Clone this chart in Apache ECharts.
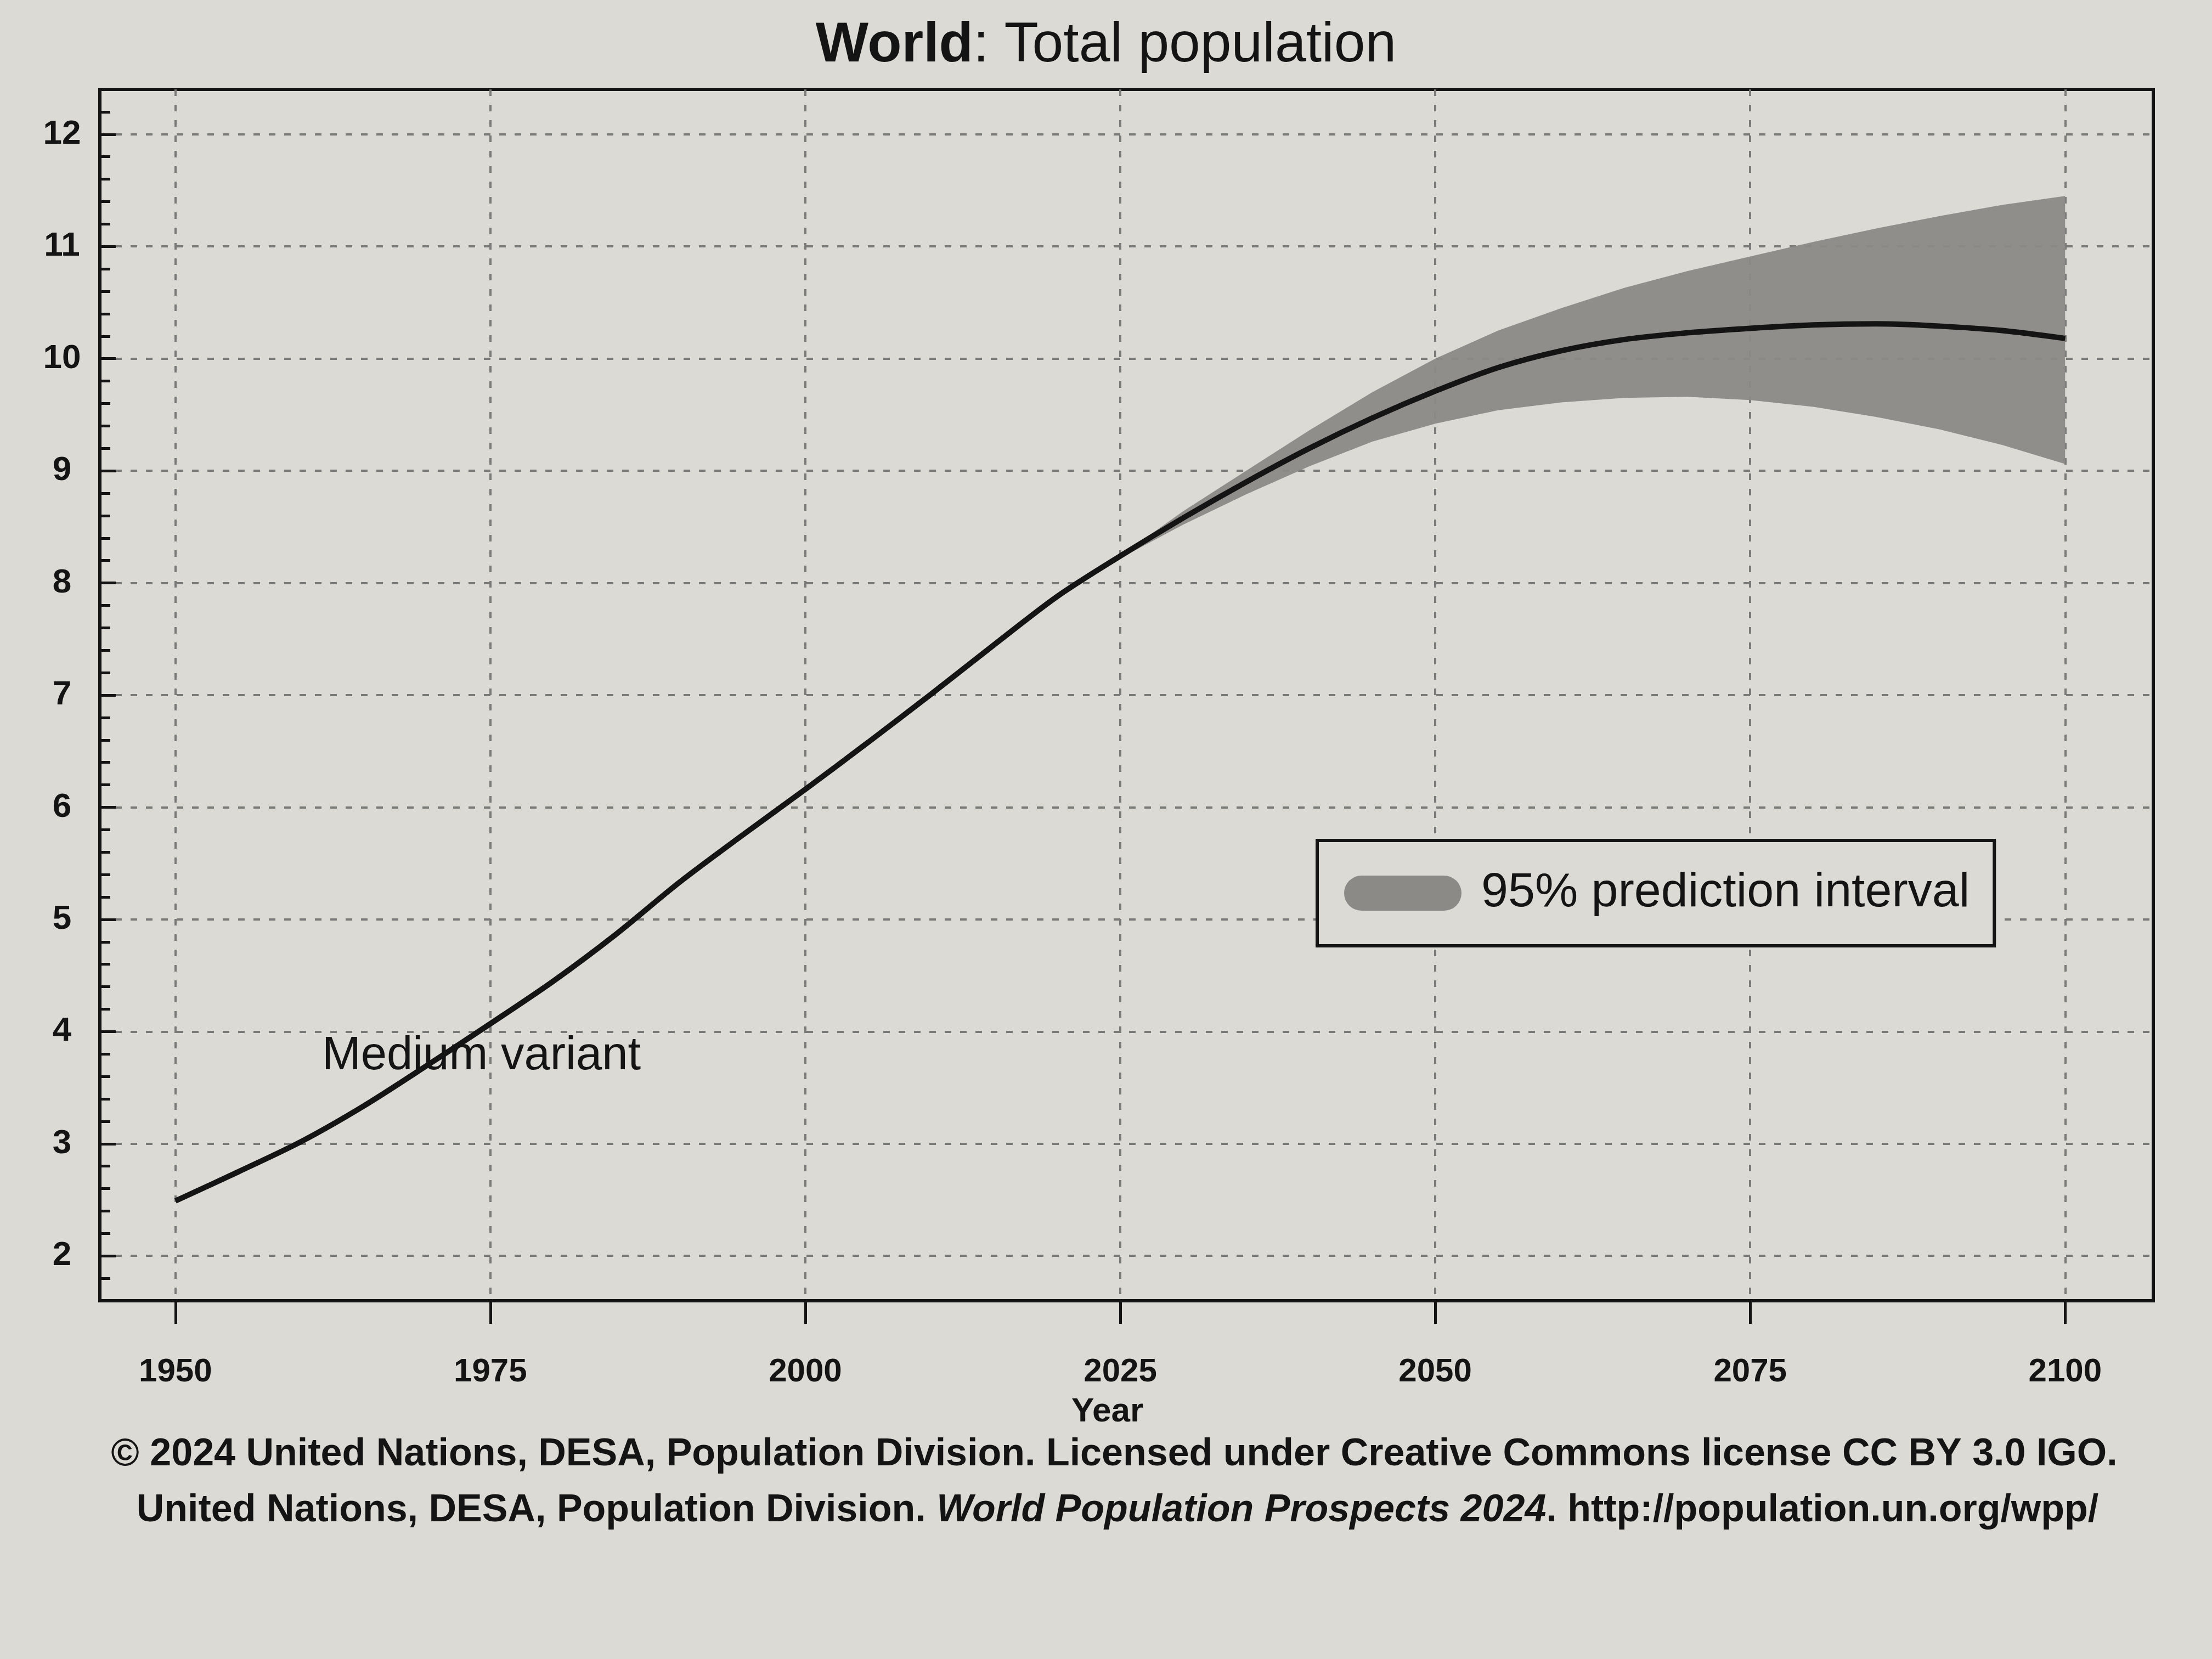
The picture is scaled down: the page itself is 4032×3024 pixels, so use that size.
<!DOCTYPE html>
<html>
<head>
<meta charset="utf-8">
<script src="https://cdn.jsdelivr.net/npm/echarts@6/dist/echarts.min.js"></script>
<style>
html,body{margin:0;padding:0;background:#d9d8d3;}
#chart{width:4032px;height:3024px;}
</style>
</head>
<body>
<div id="chart"></div>
<script>
// ---- data (billions) ----
const years = [1950,1955,1960,1965,1970,1975,1980,1985,1990,1995,2000,2005,2010,2015,2020,2025,2030,2035,2040,2045,2050,2055,2060,2065,2070,2075,2080,2085,2090,2095,2100];
const mediumVariant = [2.49,2.75,3.02,3.34,3.70,4.07,4.45,4.87,5.33,5.75,6.16,6.58,7.01,7.45,7.88,8.24,8.58,8.90,9.20,9.47,9.71,9.92,10.07,10.17,10.23,10.27,10.30,10.31,10.29,10.25,10.18];
const bandYears = [2024,2030,2035,2040,2045,2050,2055,2060,2065,2070,2075,2080,2085,2090,2095,2100];
const bandLower = [8.16,8.52,8.79,9.04,9.26,9.42,9.54,9.61,9.65,9.66,9.63,9.57,9.48,9.37,9.23,9.06];
const bandUpper = [8.16,8.64,9.00,9.36,9.70,10.00,10.25,10.45,10.63,10.78,10.91,11.04,11.16,11.27,11.37,11.45];
const xTickValues = [1950,1975,2000,2025,2050,2075,2100];
const yTickValues = [2,3,4,5,6,7,8,9,10,11,12];

const titleMain = 'World';
const titleRest = ': Total population';
const xName = 'Year';
const bandName = '95% prediction interval';
const lineName = 'Medium variant';
const footer1 = '\u00A9 2024 United Nations, DESA, Population Division. Licensed under Creative Commons license CC BY 3.0 IGO.';
const footer2a = 'United Nations, DESA, Population Division. ';
const footer2b = 'World Population Prospects 2024';
const footer2c = '. http://population.un.org/wpp/';

// ---- style ----
const BG = '#dbdad5';
const INK = '#141414';
const BAND = '#8b8a87';
const GRIDC = '#7a7a78';
const FONT = 'Liberation Sans, Arial, sans-serif';

const chart = echarts.init(document.getElementById('chart'), null, {renderer: 'canvas'});

const bandData = bandYears.map((y, i) => [y, bandLower[i], bandUpper[i]]);
const lineData = years.map((y, i) => [y, mediumVariant[i]]);

function renderBand(params, api) {
  if (params.dataIndex !== 0) return null;
  const pts = [];
  for (let i = 0; i < bandData.length; i++) pts.push(api.coord([bandData[i][0], bandData[i][2]]));
  for (let i = bandData.length - 1; i >= 0; i--) pts.push(api.coord([bandData[i][0], bandData[i][1]]));
  return {
    type: 'polygon',
    shape: {points: pts},
    style: {fill: BAND, opacity: 0.95}
  };
}

const option = {
  backgroundColor: BG,
  animation: false,
  title: {
    text: '{b|' + titleMain + '}{n|' + titleRest + '}',
    left: 'center',
    top: 33,
    padding: [0, 0, 0, 46],
    textStyle: {
      rich: {
        b: {fontSize: 102, fontWeight: 'bold', fontFamily: FONT, color: INK},
        n: {fontSize: 102, fontWeight: 'normal', fontFamily: FONT, color: INK}
      }
    }
  },
  legend: {
    data: [{name: bandName, icon: 'path://M32,0 L182,0 A32,32 0 0 1 182,64 L32,64 A32,32 0 0 1 32,0 Z'}],
    left: 2401,
    top: 1532,
    orient: 'horizontal',
    padding: [46, 45, 46, 49],
    borderColor: INK,
    borderWidth: 6,
    backgroundColor: BG,
    itemWidth: 214,
    itemHeight: 64,
    itemStyle: {borderWidth: 0, color: BAND},
    selectedMode: false,
    textStyle: {fontSize: 88, fontFamily: FONT, color: INK, padding: [0, 0, 0, 31], lineHeight: 100}
  },
  grid: {
    left: 182, top: 163, right: 107, bottom: 653,
    show: true, borderColor: INK, borderWidth: 6,
    backgroundColor: 'transparent',
    outerBoundsMode: 'none',
    containLabel: false
  },
  xAxis: {
    type: 'value',
    min: 1944, max: 2107,
    name: xName,
    nameLocation: 'middle',
    nameGap: 172,
    nameTextStyle: {fontSize: 62, fontWeight: 'bold', fontFamily: FONT, color: INK, padding: [0, 70, 0, 0]},
    axisLine: {show: true, onZero: false, lineStyle: {color: INK, width: 6}},
    axisTick: {show: true, inside: false, length: 42, customValues: xTickValues, lineStyle: {color: INK, width: 5}},
    axisLabel: {show: true, customValues: xTickValues, margin: 100, fontSize: 60, fontWeight: 'bold', fontFamily: FONT, color: INK, formatter: v => String(v)},
    splitLine: {show: true, lineStyle: {color: GRIDC, width: 4, type: [12, 16]}}
  },
  yAxis: [
    {
      type: 'value',
      position: 'left',
      min: 1.6, max: 12.4,
      axisLine: {show: true, onZero: false, lineStyle: {color: INK, width: 6}},
      axisTick: {show: true, inside: true, length: 29, customValues: yTickValues, lineStyle: {color: INK, width: 5}},
      axisLabel: {show: true, customValues: yTickValues, margin: 69, align: 'center', fontSize: 62, fontWeight: 'bold', fontFamily: FONT, color: INK, formatter: v => String(v)},
      splitLine: {show: true, lineStyle: {color: GRIDC, width: 4, type: [12, 16]}}
    },
    {
      type: 'value',
      position: 'left',
      offset: 0,
      min: 1.6, max: 12.4, interval: 0.2,
      axisLine: {show: false},
      axisTick: {show: true, inside: true, length: 19, lineStyle: {color: INK, width: 5}},
      axisLabel: {show: false},
      splitLine: {show: false}
    }
  ],
  series: [
    {
      name: bandName,
      type: 'custom',
      data: bandData,
      encode: {x: 0, y: [1, 2]},
      itemStyle: {color: BAND},
      renderItem: renderBand,
      clip: true,
      silent: true,
      z: 2
    },
    {
      name: lineName,
      type: 'line',
      data: lineData,
      symbol: 'none',
      smooth: 0.3,
      lineStyle: {color: INK, width: 10},
      itemStyle: {color: INK},
      z: 5
    }
  ],
  graphic: [
    {
      type: 'text', left: 587, top: 1883, z: 4,
      style: {text: lineName, fontSize: 85, fontFamily: FONT, fill: INK}
    },
    {
      type: 'text', x: 2031, y: 2652, z: 10,
      style: {text: footer1, fontSize: 70, fontWeight: 'bold', fontFamily: FONT, fill: INK, align: 'center', verticalAlign: 'middle'}
    },
    {
      type: 'text', x: 2037, y: 2754, z: 10,
      style: {
        text: '{n|' + footer2a + '}{i|' + footer2b + '}{n|' + footer2c + '}',
        align: 'center', verticalAlign: 'middle',
        rich: {
          n: {fontSize: 70, fontWeight: 'bold', fontFamily: FONT, fill: INK},
          i: {fontSize: 70, fontWeight: 'bold', fontStyle: 'italic', fontFamily: FONT, fill: INK}
        }
      }
    }
  ]
};
chart.setOption(option);
</script>
</body>
</html>
